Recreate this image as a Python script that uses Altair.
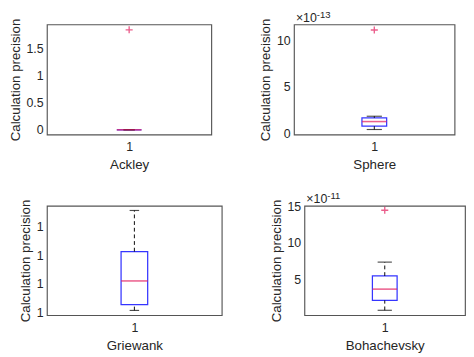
import altair as alt
import pandas as pd

# ---- data ----
names = ["Ackley", "Sphere", "Griewank", "Bohachevsky"]
q1 = [0.0, 0.8, 1.0000267, 2.15]
med = [0.0, 1.3, 1.00011, 3.7]
q3 = [0.0, 1.7, 1.000213, 5.5]
wlo = [0.0, 0.45, 1.0000067, 0.8]
whi = [0.0, 1.87, 1.000357, 7.4]
outliers = [[1.86], [11.1], [], [14.5]]
exponents = ["", "-13", "", "-11"]
y_domains = [[-0.09, 1.96], [-0.1, 11.7], [0.99999, 1.000373], [0.13, 15.1]]
y_ticks = [[0, 0.5, 1, 1.5], [0, 5, 10], [1.0, 1.0001, 1.0002, 1.0003], [5, 10, 15]]
y_formats = [".1~f", "d", ".0f", "d"]
x_tick = [1]

# ---- style ----
FONT = "Liberation Sans"
BLUE = "#3535ff"
RED = "#e31b5c"
TXT = "#262626"
widths = [173, 169, 184, 169]
heights = [116, 116, 115, 115]
box_w = [26, 26, 28, 26]
cap_w = [12, 16, 10, 15]


def panel(i):
    base = pd.DataFrame({
        "pos": x_tick, "q1": [q1[i]], "med": [med[i]], "q3": [q3[i]],
        "wlo": [wlo[i]], "whi": [whi[i]],
    })
    yscale = alt.Scale(domain=y_domains[i], nice=False, zero=False)
    xscale = alt.Scale(domain=[0.5, 1.5], nice=False, zero=False)
    xenc = alt.X("pos:Q", scale=xscale,
                 axis=alt.Axis(values=x_tick, format="d", title=names[i],
                               labelPadding=7, titlePadding=5))
    yaxis = alt.Axis(values=y_ticks[i], format=y_formats[i], tickCount=20,
                     title="Calculation precision", labelOverlap=False)
    chart_base = alt.Chart(base)
    box = chart_base.mark_bar(size=box_w[i], fill="white", fillOpacity=0,
                              stroke=BLUE, strokeWidth=1.3).encode(
        x=xenc, y=alt.Y("q1:Q", scale=yscale, axis=yaxis), y2="q3:Q")
    w_up = chart_base.mark_rule(color="black", strokeDash=[4, 3], strokeWidth=1).encode(
        x="pos:Q", y="q3:Q", y2="whi:Q")
    w_dn = chart_base.mark_rule(color="black", strokeDash=[4, 3], strokeWidth=1).encode(
        x="pos:Q", y="wlo:Q", y2="q1:Q")
    cap_up = chart_base.mark_tick(orient="horizontal", size=cap_w[i], thickness=1.2,
                                  color="black").encode(x="pos:Q", y="whi:Q")
    cap_dn = chart_base.mark_tick(orient="horizontal", size=cap_w[i], thickness=1.2,
                                  color="black").encode(x="pos:Q", y="wlo:Q")
    median = chart_base.mark_tick(orient="horizontal", size=box_w[i], thickness=1.6,
                                  color=RED).encode(x="pos:Q", y="med:Q")
    layers = [box, w_up, w_dn, cap_up, cap_dn, median]
    if outliers[i]:
        odf = pd.DataFrame({"pos": [1] * len(outliers[i]), "v": outliers[i]})
        out = alt.Chart(odf).mark_point(shape="M-1,0L1,0M0,-1L0,1", filled=False,
                                        stroke=RED, strokeWidth=1.4, size=55).encode(
            x="pos:Q", y="v:Q")
        layers.append(out)
    if exponents[i]:
        t1 = chart_base.mark_text(align="left", baseline="alphabetic", font=FONT,
                                  fontSize=13, color=TXT).encode(
            x=alt.value(2), y=alt.value(-3), text=alt.value("×10"))
        t2 = chart_base.mark_text(align="left", baseline="alphabetic", font=FONT,
                                  fontSize=10, color=TXT).encode(
            x=alt.value(24), y=alt.value(-7), text=alt.value(exponents[i]))
        layers += [t1, t2]
    return alt.layer(*layers).properties(width=widths[i], height=heights[i])


row1 = alt.hconcat(panel(0), panel(1), spacing=48)
row2 = alt.hconcat(panel(2), panel(3), spacing=48)
chart = alt.vconcat(row1, row2, spacing=19).properties(
    padding={"left": 0, "top": -8, "right": 0, "bottom": 0}
).configure_view(
    stroke="#555555", strokeWidth=1.2
).configure_axis(
    labelFont=FONT, titleFont=FONT, labelFontSize=13, titleFontSize=14,
    labelColor=TXT, titleColor=TXT, titleFontWeight="normal",
    grid=False, domain=False, ticks=False, labelPadding=4, titlePadding=4,
    labelOverlap=False,
)

chart.save("out.html", embed_options={"renderer": "svg", "actions": False})
